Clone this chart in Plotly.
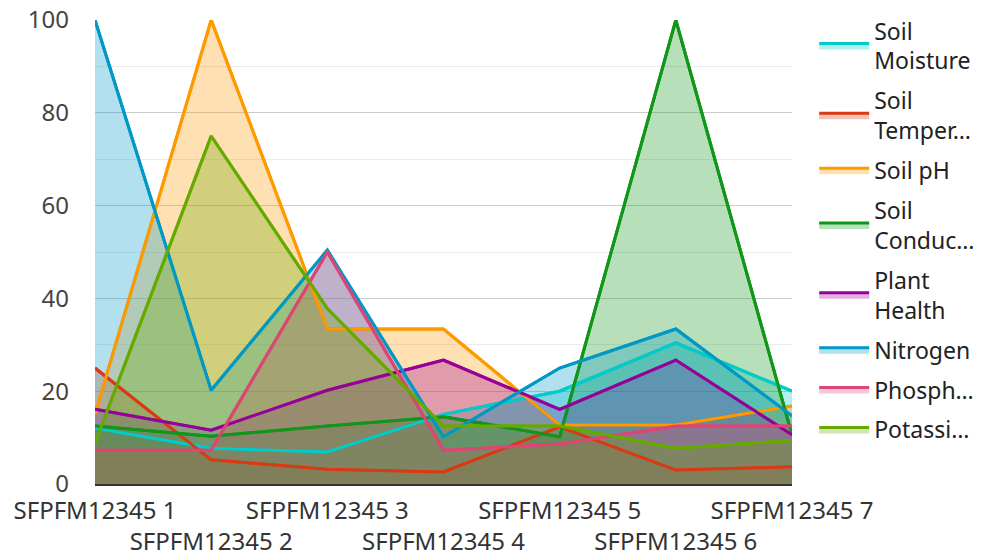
import plotly.graph_objects as go

categories = ["SFPFM12345 1", "SFPFM12345 2", "SFPFM12345 3", "SFPFM12345 4",
              "SFPFM12345 5", "SFPFM12345 6", "SFPFM12345 7"]

soil_moisture = [12.0, 7.7, 6.9, 15.0, 20.0, 30.4, 20.0]
soil_temperature = [25.0, 5.2, 3.2, 2.6, 12.3, 3.0, 3.7]
soil_ph = [15.0, 100.0, 33.4, 33.4, 12.7, 12.7, 16.8]
soil_conductivity = [12.5, 10.3, 12.5, 14.5, 10.2, 100.0, 10.6]
plant_health = [16.1, 11.6, 20.2, 26.7, 16.1, 26.7, 10.6]
nitrogen = [100.0, 20.2, 50.4, 10.2, 25.0, 33.4, 14.7]
phosphorus = [7.3, 7.3, 50.0, 7.3, 8.6, 12.5, 12.5]
potassium = [8.8, 75.0, 37.8, 12.5, 12.5, 7.7, 9.4]

series_names = ["Soil<br>Moisture", "Soil<br>Temper…", "Soil pH", "Soil<br>Conduc…",
                "Plant<br>Health", "Nitrogen", "Phosph…", "Potassi…"]
series_values = [soil_moisture, soil_temperature, soil_ph, soil_conductivity,
                 plant_health, nitrogen, phosphorus, potassium]
colors = ["#00cccc", "#dc3912", "#ff9900", "#109618",
          "#990099", "#0099c6", "#dd4477", "#66aa00"]


def rgba(hex_color, a):
    h = hex_color.lstrip("#")
    r, g, b = int(h[0:2], 16), int(h[2:4], 16), int(h[4:6], 16)
    return f"rgba({r},{g},{b},{a})"


fig = go.Figure()
# filled areas (with legend entries)
for i, (name, vals, col) in enumerate(zip(series_names, series_values, colors)):
    fig.add_trace(go.Scatter(
        x=categories, y=vals, name=name, mode="lines", legendgroup=f"g{i}",
        line=dict(color=col, width=3),
        fill="tozeroy", fillcolor=rgba(col, 0.3),
    ))
# lines drawn on top of all fills
for i, (name, vals, col) in enumerate(zip(series_names, series_values, colors)):
    fig.add_trace(go.Scatter(
        x=categories, y=vals, name=name, mode="lines", legendgroup=f"g{i}",
        line=dict(color=col, width=3), showlegend=False,
    ))

ticktext = [c if i % 2 == 0 else "<br>" + c for i, c in enumerate(categories)]

font = "Noto Sans, Open Sans, sans-serif"
fig.update_layout(
    width=976, height=547,
    margin=dict(l=87, r=192, t=12, b=71),
    paper_bgcolor="white", plot_bgcolor="white",
    font=dict(family=font, size=24, color="#333333"),
    showlegend=True,
    legend=dict(xref="container", yref="container", x=0.826, xanchor="left",
                y=0.998, yanchor="top",
                font=dict(size=23, color="#222222"), tracegroupgap=7,
                itemwidth=50, maxheight=1.0),
    xaxis=dict(
        type="category", tickvals=categories, ticktext=ticktext, tickangle=0,
        showgrid=False, showline=True, linecolor="#333333", linewidth=2,
        ticks="", range=[0, 6], tickfont=dict(size=24, color="#333333"),
        zeroline=False, automargin=False, ticklabelstandoff=4,
        ticklabeloverflow="allow",
    ),
    yaxis=dict(
        range=[0, 100], dtick=20, showgrid=True, gridcolor="#cccccc", gridwidth=1,
        zeroline=False, showline=False, ticks="", automargin=False,
        tickfont=dict(size=24, color="#444444"), ticklabelstandoff=25,
        ticklabeloverflow="allow",
        minor=dict(dtick=10, showgrid=True, gridcolor="#ebebeb", gridwidth=1),
    ),
)

fig.write_html("out.html")
